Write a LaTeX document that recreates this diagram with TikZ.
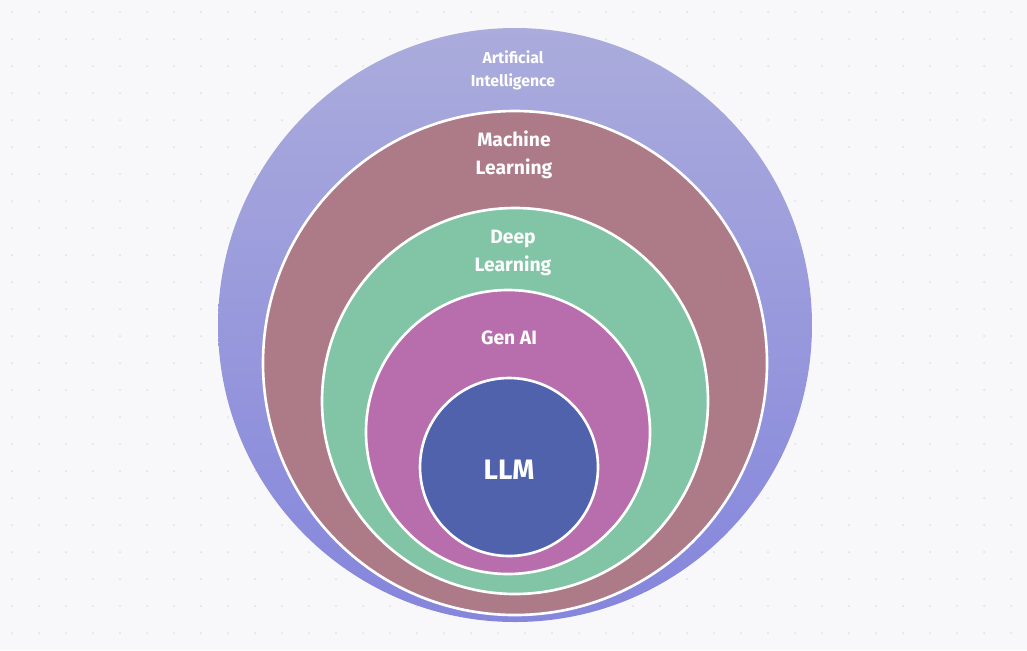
\documentclass[tikz,border=0pt]{standalone}
\usepackage{fontspec}
\setmainfont{Fira Sans}
\definecolor{aicol}{HTML}{9C9DD6}
\definecolor{mlcol}{HTML}{AD7A88}
\definecolor{dlcol}{HTML}{82C4A6}
\definecolor{gencol}{HTML}{B86EAD}
\definecolor{llmcol}{HTML}{4F62AB}
\definecolor{bgcol}{HTML}{F8F8FA}
\tikzset{
  ring/.style={circle, draw=white, line width=1.5pt, inner sep=0pt},
  lbl/.style={text=white, align=center, font=\bfseries}
}
\begin{document}
\begin{tikzpicture}[x=0.02cm,y=-0.02cm]
        % Background with dots
    \fill[bgcol] (0,0) rectangle (1027,650);
    \useasboundingbox (0,0) rectangle (1027,650);
    \foreach \i in {0,...,38} \foreach \j in {0,...,24}
        \fill[black!12] (12+27*\i,12+27*\j) circle (1);

        % Nested circles
    \node[ring, draw=none, top color=aicol!85!white, bottom color=aicol!85!blue, minimum size=594*0.02cm] (ai) at (515,325) {};
    \node[ring, fill=mlcol, minimum size=504*0.02cm] (ml) at (515,363) {};
    \node[ring, fill=dlcol, minimum size=386*0.02cm] (dl) at (515,401) {};
    \node[ring, fill=gencol, minimum size=284*0.02cm] (gen) at (508,432) {};
    \node[ring, fill=llmcol, minimum size=178*0.02cm] (llm) at (509,467) {};

        % Labels
    \node[lbl, font=\bfseries\fontsize{9}{13}\selectfont] (ailbl) at (513,70) {Artificial\\Intelligence};
    \node[lbl, font=\bfseries\fontsize{11}{16}\selectfont] (mllbl) at (514,155) {Machine\\Learning};
    \node[lbl, font=\bfseries\fontsize{11}{16}\selectfont] (dllbl) at (513,253) {Deep\\Learning};
    \node[lbl, font=\bfseries\fontsize{11}{16}\selectfont] (genlbl) at (509,338) {Gen AI};
    \node[lbl, font=\bfseries\fontsize{16}{20}\selectfont] (llmlbl) at (509,470) {LLM};
  \end{tikzpicture}
\end{document}
